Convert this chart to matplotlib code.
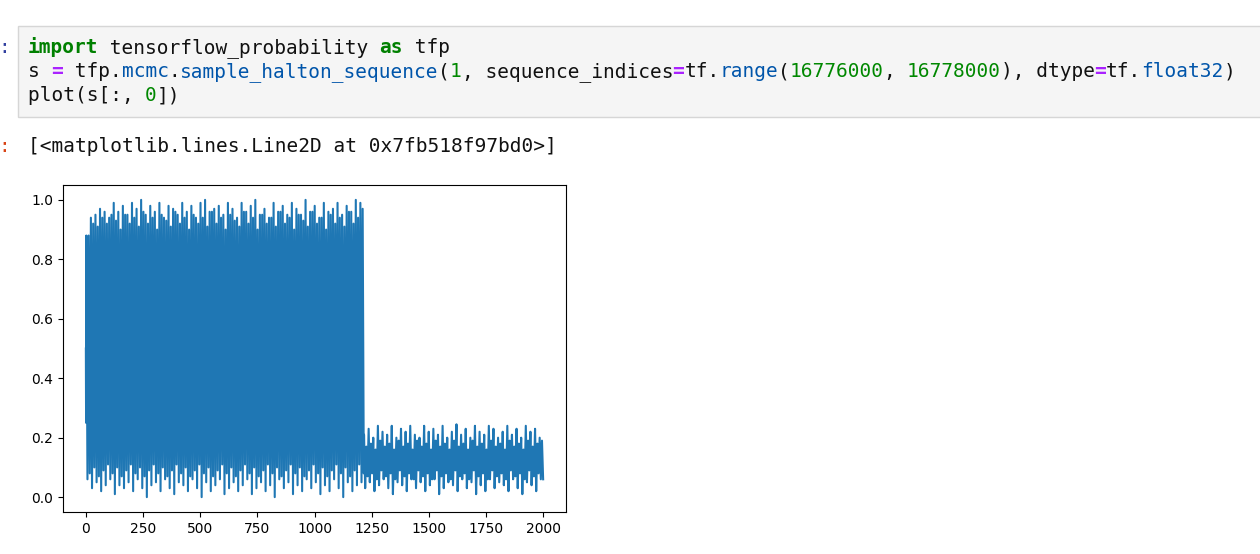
import numpy as np
import matplotlib
matplotlib.use("Agg")
import matplotlib.pyplot as plt
from matplotlib.patches import Rectangle

W, H, DPI = 1260, 554, 100

# ---------------- data ----------------
split_index = 1216          # where the series drops to the low band
last_index = 1999
lead_values = [0.50, 0.25]  # first samples at the very left edge

# upper edge of the high band (tips and notches, left to right)
left_top = [0.88, 0.88, 0.94, 0.92, 0.95, 0.91, 0.97, 0.94, 0.96, 0.92,
            0.94, 0.95, 0.99, 0.93, 0.96, 0.90, 0.98, 0.95, 0.95, 0.92,
            0.99, 0.94, 0.97, 0.91, 1.00, 0.96, 0.95, 0.92, 0.98, 0.94,
            0.96, 0.90, 0.99, 0.95, 0.94, 0.93, 0.98, 0.91, 0.97, 0.96,
            0.95, 0.92, 0.99, 0.94, 0.96, 0.90, 0.98, 0.95, 0.94, 0.92,
            0.99, 0.94, 1.00, 0.91, 0.96, 0.96, 0.97, 0.92, 0.98, 0.94,
            0.95, 0.90, 0.99, 0.95, 0.97, 0.93, 0.94, 0.91, 0.99, 0.96,
            0.96, 0.92, 0.98, 0.94, 1.00, 0.90, 0.95, 0.95, 0.97, 0.92,
            0.94, 0.94, 0.99, 0.91, 0.96, 0.96, 0.98, 0.92, 0.95, 0.94,
            0.99, 0.90, 0.97, 0.95, 0.95, 0.93, 1.00, 0.91, 0.96, 0.96,
            0.98, 0.92, 0.94, 0.94, 0.99, 0.90, 0.96, 0.95, 0.97, 0.92,
            0.99, 0.94, 0.95, 0.91, 0.98, 0.96, 0.96, 0.92, 1.00, 0.94,
            0.99, 0.97]
# lower edge of the high band
left_bottom = [0.06, 0.08, 0.03, 0.10, 0.05, 0.07, 0.02, 0.09, 0.04, 0.11,
               0.06, 0.08, 0.01, 0.10, 0.04, 0.07, 0.03, 0.09, 0.05, 0.11,
               0.02, 0.08, 0.06, 0.10, 0.03, 0.07, 0.00, 0.09, 0.04, 0.11,
               0.05, 0.08, 0.02, 0.10, 0.06, 0.07, 0.03, 0.09, 0.01, 0.11,
               0.05, 0.08, 0.04, 0.10, 0.02, 0.07, 0.06, 0.09, 0.03, 0.11,
               0.00, 0.08, 0.05, 0.10, 0.02, 0.07, 0.04, 0.09, 0.06, 0.11,
               0.01, 0.08, 0.03, 0.10, 0.05, 0.07, 0.02, 0.09, 0.04, 0.11,
               0.06, 0.08, 0.01, 0.10, 0.03, 0.07, 0.05, 0.09, 0.02, 0.11,
               0.04, 0.08, 0.00, 0.10, 0.06, 0.07, 0.03, 0.09, 0.05, 0.11,
               0.01, 0.08, 0.04, 0.10, 0.02, 0.07, 0.06, 0.09, 0.03, 0.11,
               0.05, 0.08, 0.01, 0.10, 0.04, 0.07, 0.02, 0.09, 0.06, 0.11,
               0.03, 0.08, 0.00, 0.10, 0.05, 0.07, 0.02, 0.09, 0.04, 0.11,
               0.05, 0.08]
# upper edge of the low band
right_top = [0.21, 0.17, 0.23, 0.18, 0.20, 0.16, 0.24, 0.19, 0.22, 0.17,
             0.21, 0.18, 0.24, 0.16, 0.20, 0.19, 0.23, 0.17, 0.22, 0.18,
             0.24, 0.16, 0.21, 0.19, 0.20, 0.17, 0.24, 0.18, 0.22, 0.16,
             0.23, 0.19, 0.21, 0.17, 0.24, 0.18, 0.20, 0.16, 0.22, 0.19,
             0.245, 0.17, 0.21, 0.18, 0.23, 0.16, 0.20, 0.19, 0.24, 0.17,
             0.22, 0.18, 0.21, 0.16, 0.24, 0.19, 0.23, 0.17, 0.20, 0.18,
             0.22, 0.16, 0.24, 0.19, 0.21, 0.17, 0.23, 0.18, 0.20, 0.16,
             0.24, 0.19, 0.22, 0.17, 0.23, 0.18, 0.20, 0.19]
# lower edge of the low band
right_bottom = [0.03, 0.07, 0.05, 0.08, 0.02, 0.06, 0.04, 0.09, 0.06, 0.07,
                0.03, 0.08, 0.01, 0.06, 0.05, 0.09, 0.04, 0.07, 0.02, 0.08,
                0.06, 0.06, 0.03, 0.09, 0.05, 0.07, 0.02, 0.08, 0.04, 0.06,
                0.06, 0.09, 0.01, 0.07, 0.03, 0.08, 0.05, 0.06, 0.04, 0.09,
                0.02, 0.07, 0.06, 0.08, 0.03, 0.06, 0.05, 0.09, 0.01, 0.07,
                0.04, 0.08, 0.02, 0.06, 0.06, 0.09, 0.03, 0.07, 0.05, 0.08,
                0.04, 0.06, 0.02, 0.09, 0.06, 0.07, 0.03, 0.08, 0.01, 0.06,
                0.05, 0.09, 0.04, 0.07, 0.02, 0.08, 0.06, 0.06]

xtick_values = [0, 250, 500, 750, 1000, 1250, 1500, 1750, 2000]
ytick_values = [0.0, 0.2, 0.4, 0.6, 0.8, 1.0]

# notebook text
code_line1 = [("import", "kw"), (" tensorflow_probability ", "txt"), ("as", "kw"), (" tfp", "txt")]
code_line2 = [("s ", "txt"), ("=", "op"), (" tfp.", "txt"), ("mcmc", "prop"), (".", "txt"),
              ("sample_halton_sequence", "prop"), ("(", "txt"), ("1", "num"),
              (", sequence_indices", "txt"), ("=", "op"), ("tf.", "txt"), ("range", "prop"),
              ("(", "txt"), ("16776000", "num"), (", ", "txt"), ("16778000", "num"),
              ("), dtype", "txt"), ("=", "op"), ("tf.", "txt"), ("float32", "prop"), (")", "txt")]
code_line3 = [("plot(s[:, ", "txt"), ("0", "num"), ("])", "txt")]
output_text = "[<matplotlib.lines.Line2D at 0x7fb518f97bd0>]"

styles = {
    "kw": dict(color="#008000", fontweight="bold"),
    "op": dict(color="#AA22FF", fontweight="bold"),
    "prop": dict(color="#0055AA"),
    "num": dict(color="#008800"),
    "txt": dict(color="#111111"),
}

# ---------------- figure ----------------
fig = plt.figure(figsize=(W / DPI, H / DPI), dpi=DPI)
fig.patch.set_facecolor("white")


def fx(px):
    return px / W


def fy(py):
    return 1 - py / H


# code cell box
fig.patches.append(Rectangle((fx(18), fy(117)), fx(1262) - fx(18), fy(26) - fy(117),
                             transform=fig.transFigure, facecolor="#f5f5f5",
                             edgecolor="#d6d6d6", linewidth=1.0, zorder=0))

mono = "DejaVu Sans Mono"
mono_size = 14.0
char_w = 11.72
x0 = 28
baselines = [53, 77, 101]
for line, base in zip([code_line1, code_line2, code_line3], baselines):
    col = 0
    for text, st in line:
        fig.text(fx(x0 + col * char_w), fy(base), text, family=mono, fontsize=mono_size,
                 va="baseline", ha="left", **styles[st])
        col += len(text)

fig.text(fx(-1.5), fy(53), ":", family=mono, fontsize=mono_size, va="baseline",
         ha="left", color="#303F9F")
fig.text(fx(-1.5), fy(152), ":", family=mono, fontsize=mono_size, va="baseline",
         ha="left", color="#D84315")
fig.text(fx(x0), fy(152), output_text, family=mono, fontsize=mono_size, va="baseline",
         ha="left", color="#111111")

# ---------------- plot ----------------
ax = fig.add_axes([fx(63), fy(512), fx(566) - fx(63), fy(185) - fy(512)])

line_color = "#1f77b4"


def zigzag(tops, bottoms, x_start, x_end):
    vals = []
    for t, b in zip(tops, bottoms):
        vals += [t, b]
    xs = np.linspace(x_start, x_end, len(vals))
    return xs, np.array(vals)


xl, yl = zigzag(left_top, left_bottom, 2, split_index - 1)
xr, yr = zigzag(right_top, right_bottom, split_index, last_index)
x_lead = np.arange(len(lead_values))
x_all = np.concatenate([x_lead, xl, xr])
y_all = np.concatenate([lead_values, yl, yr])

ax.plot(x_all, y_all, color=line_color, linewidth=1.5)

ax.set_xticks(xtick_values)
ax.set_xticklabels([str(v) for v in xtick_values])
ax.set_yticks(ytick_values)
ax.set_yticklabels([f"{v:.1f}" for v in ytick_values])
ax.tick_params(labelsize=10)

fig.savefig("out.png", dpi=DPI, facecolor="white")
